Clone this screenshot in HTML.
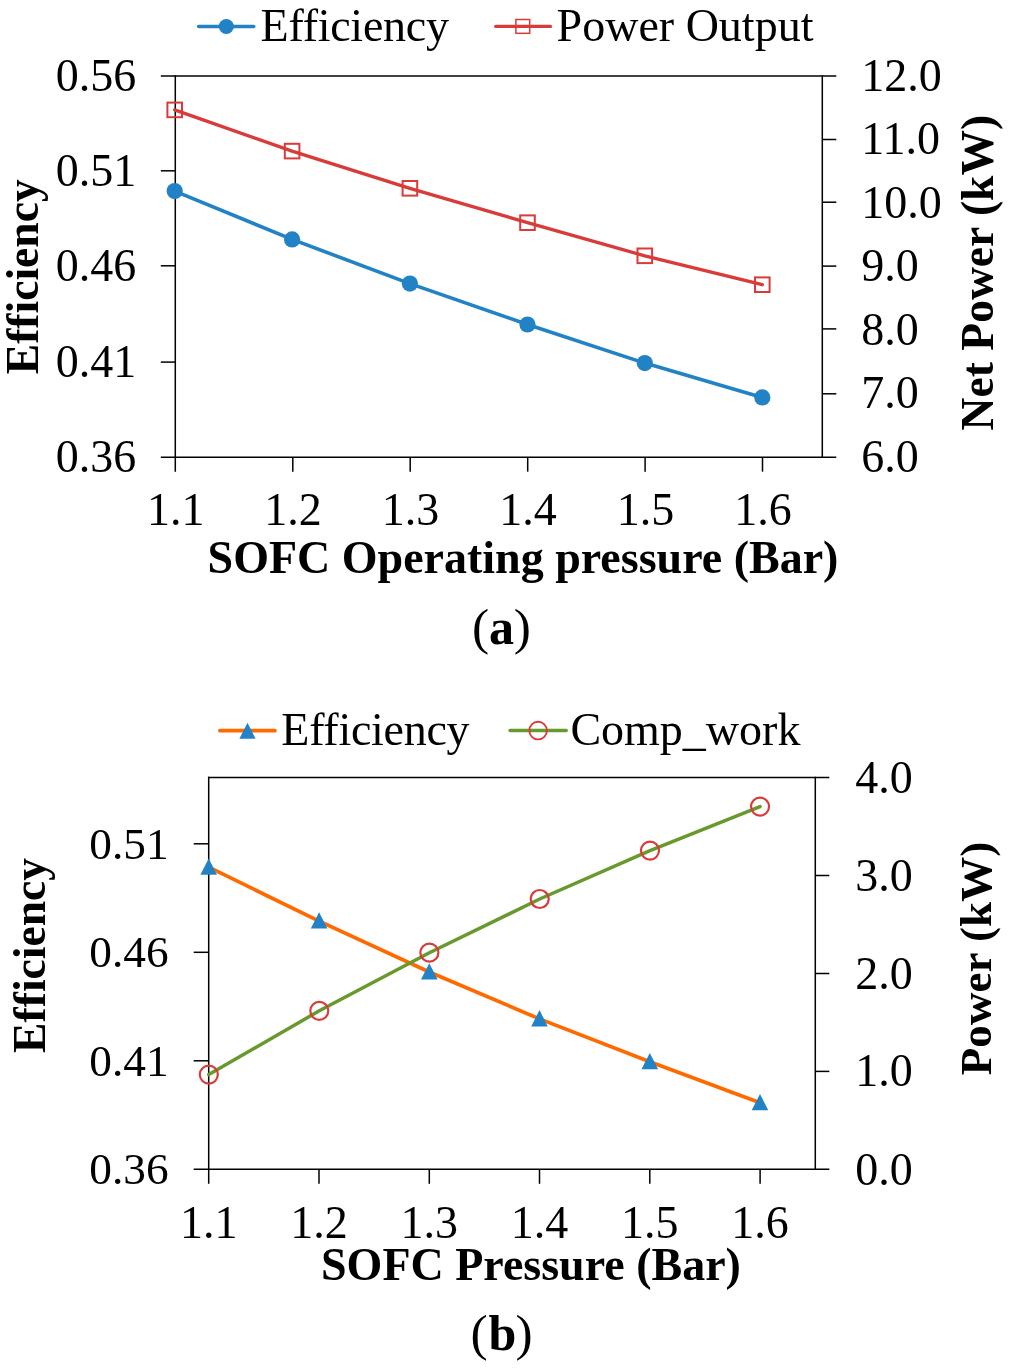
<!DOCTYPE html><html><head><meta charset="utf-8"><title>Figure</title>
<style>html,body{margin:0;padding:0;background:#fff}svg{display:block}text{font-family:"Liberation Serif","Times New Roman",serif;fill:#000}.t{font-size:46px}.r{font-size:45.6px}.c{font-size:50px}.p{font-size:51.5px}.b{font-weight:bold}</style></head><body>
<svg width="1024" height="1370" viewBox="0 0 1024 1370">
<rect width="1024" height="1370" fill="#fff"/>
<g stroke="#000" stroke-width="1.5" fill="none">
<line x1="160.8" y1="76.0" x2="836.3" y2="76.0"/>
<line x1="160.8" y1="457.15" x2="836.3" y2="457.15"/>
<line x1="175.3" y1="75.25" x2="175.3" y2="471.65"/>
<line x1="822.3" y1="75.25" x2="822.3" y2="457.9"/>
<line x1="160.8" y1="170.8" x2="175.3" y2="170.8"/>
<line x1="160.8" y1="265.8" x2="175.3" y2="265.8"/>
<line x1="160.8" y1="362.1" x2="175.3" y2="362.1"/>
<line x1="822.3" y1="139.5" x2="836.3" y2="139.5"/>
<line x1="822.3" y1="202.2" x2="836.3" y2="202.2"/>
<line x1="822.3" y1="266.1" x2="836.3" y2="266.1"/>
<line x1="822.3" y1="328.9" x2="836.3" y2="328.9"/>
<line x1="822.3" y1="393.8" x2="836.3" y2="393.8"/>
<line x1="292.8" y1="457.15" x2="292.8" y2="471.65"/>
<line x1="410.2" y1="457.15" x2="410.2" y2="471.65"/>
<line x1="527.7" y1="457.15" x2="527.7" y2="471.65"/>
<line x1="645.1" y1="457.15" x2="645.1" y2="471.65"/>
<line x1="762.5" y1="457.15" x2="762.5" y2="471.65"/>
</g>
<text class="t" x="136.2" y="90.6" text-anchor="end">0.56</text>
<text class="t" x="136.2" y="185.9" text-anchor="end">0.51</text>
<text class="t" x="136.2" y="281.2" text-anchor="end">0.46</text>
<text class="t" x="136.2" y="376.5" text-anchor="end">0.41</text>
<text class="t" x="136.2" y="471.8" text-anchor="end">0.36</text>
<text class="t" x="861.2" y="90.5">12.0</text>
<text class="t" x="861.2" y="154.0">11.0</text>
<text class="t" x="861.2" y="217.6">10.0</text>
<text class="t" x="861.2" y="281.1">9.0</text>
<text class="t" x="861.2" y="344.6">8.0</text>
<text class="t" x="861.2" y="408.1">7.0</text>
<text class="t" x="861.2" y="472.3">6.0</text>
<text class="t" x="175.7" y="525.2" text-anchor="middle">1.1</text>
<text class="t" x="293.1" y="525.2" text-anchor="middle">1.2</text>
<text class="t" x="410.6" y="525.2" text-anchor="middle">1.3</text>
<text class="t" x="528.1" y="525.2" text-anchor="middle">1.4</text>
<text class="t" x="645.5" y="525.2" text-anchor="middle">1.5</text>
<text class="t" x="762.9" y="525.2" text-anchor="middle">1.6</text>
<text class="t b" x="523" y="572.5" text-anchor="middle">SOFC Operating pressure (Bar)</text>
<text class="c" y="644.5"><tspan class="p" x="472" y="644.1">(</tspan><tspan class="b" x="489.1" y="643.9">a</tspan><tspan class="p" x="513.8" y="644.1">)</tspan></text>
<text class="r b" transform="translate(37.8,276.8) rotate(-90)" text-anchor="middle">Efficiency</text>
<text class="r b" transform="translate(993.3,272.6) rotate(-90)" text-anchor="middle">Net Power (kW)</text>
<polyline points="174.7,109.9 292.1,151.1 409.9,188.3 527.5,222.7 644.8,255.8 762.3,284.7" fill="none" stroke="#d93b38" stroke-width="3.4" stroke-linejoin="round" stroke-linecap="round"/>
<rect x="167.4" y="102.6" width="14.6" height="14.6" fill="none" stroke="#d93b38" stroke-width="2"/>
<rect x="284.8" y="143.8" width="14.6" height="14.6" fill="none" stroke="#d93b38" stroke-width="2"/>
<rect x="402.6" y="181.0" width="14.6" height="14.6" fill="none" stroke="#d93b38" stroke-width="2"/>
<rect x="520.2" y="215.4" width="14.6" height="14.6" fill="none" stroke="#d93b38" stroke-width="2"/>
<rect x="637.5" y="248.5" width="14.6" height="14.6" fill="none" stroke="#d93b38" stroke-width="2"/>
<rect x="755.0" y="277.4" width="14.6" height="14.6" fill="none" stroke="#d93b38" stroke-width="2"/>
<polyline points="174.7,191.1 292.1,239.4 409.9,283.6 527.5,324.5 644.8,363.1 762.3,397.4" fill="none" stroke="#2182c5" stroke-width="3.6" stroke-linejoin="round" stroke-linecap="round"/>
<circle cx="174.7" cy="191.1" r="8.1" fill="#2182c5"/>
<circle cx="292.1" cy="239.4" r="8.1" fill="#2182c5"/>
<circle cx="409.9" cy="283.6" r="8.1" fill="#2182c5"/>
<circle cx="527.5" cy="324.5" r="8.1" fill="#2182c5"/>
<circle cx="644.8" cy="363.1" r="8.1" fill="#2182c5"/>
<circle cx="762.3" cy="397.4" r="8.1" fill="#2182c5"/>
<line x1="198.7" y1="26.5" x2="253.7" y2="26.5" stroke="#2182c5" stroke-width="3.6" stroke-linecap="round"/><circle cx="226.3" cy="26.5" r="7.6" fill="#2182c5"/>
<text class="t" x="260.6" y="41.2" textLength="188.3" lengthAdjust="spacing">Efficiency</text>
<line x1="495.8" y1="26.4" x2="550.4" y2="26.4" stroke="#d93b38" stroke-width="3.4" stroke-linecap="round"/><rect x="515.9" y="19.5" width="13.8" height="13.8" fill="none" stroke="#d93b38" stroke-width="1.5"/>
<text class="t" x="556.6" y="41.2">Power Output</text>
<g stroke="#000" stroke-width="1.5" fill="none">
<line x1="207.95" y1="777.6" x2="829.3" y2="777.6"/>
<line x1="193.7" y1="1169.3" x2="829.3" y2="1169.3"/>
<line x1="208.7" y1="776.85" x2="208.7" y2="1183.8"/>
<line x1="815.3" y1="776.85" x2="815.3" y2="1170.05"/>
<line x1="193.7" y1="843.8" x2="208.7" y2="843.8"/>
<line x1="193.7" y1="952.3" x2="208.7" y2="952.3"/>
<line x1="193.7" y1="1060.8" x2="208.7" y2="1060.8"/>
<line x1="815.3" y1="875.5" x2="829.3" y2="875.5"/>
<line x1="815.3" y1="973.5" x2="829.3" y2="973.5"/>
<line x1="815.3" y1="1071.4" x2="829.3" y2="1071.4"/>
<line x1="319.0" y1="1169.3" x2="319.0" y2="1183.8"/>
<line x1="429.3" y1="1169.3" x2="429.3" y2="1183.8"/>
<line x1="539.5" y1="1169.3" x2="539.5" y2="1183.8"/>
<line x1="649.8" y1="1169.3" x2="649.8" y2="1183.8"/>
<line x1="760.1" y1="1169.3" x2="760.1" y2="1183.8"/>
</g>
<text class="t" x="168.6" y="858.8" text-anchor="end" style="font-size:45.3px">0.51</text>
<text class="t" x="168.6" y="967.3" text-anchor="end" style="font-size:45.3px">0.46</text>
<text class="t" x="168.6" y="1075.8" text-anchor="end" style="font-size:45.3px">0.41</text>
<text class="t" x="168.6" y="1184.3" text-anchor="end" style="font-size:45.3px">0.36</text>
<text class="t" x="855.3" y="793.3">4.0</text>
<text class="t" x="855.3" y="891.2">3.0</text>
<text class="t" x="855.3" y="989.2">2.0</text>
<text class="t" x="855.3" y="1086.1">1.0</text>
<text class="t" x="855.3" y="1185.0">0.0</text>
<text class="t" x="208.7" y="1238.2" text-anchor="middle">1.1</text>
<text class="t" x="319.0" y="1238.2" text-anchor="middle">1.2</text>
<text class="t" x="429.3" y="1238.2" text-anchor="middle">1.3</text>
<text class="t" x="539.5" y="1238.2" text-anchor="middle">1.4</text>
<text class="t" x="649.8" y="1238.2" text-anchor="middle">1.5</text>
<text class="t" x="760.1" y="1238.2" text-anchor="middle">1.6</text>
<text class="t b" x="531" y="1280" text-anchor="middle">SOFC Pressure (Bar)</text>
<text class="c" y="1350.5"><tspan class="p" x="470.4" y="1350.3">(</tspan><tspan class="b" x="488.5" y="1350.4">b</tspan><tspan class="p" x="515.5" y="1350.3">)</tspan></text>
<text class="r b" transform="translate(45.3,955.4) rotate(-90)" text-anchor="middle">Efficiency</text>
<text class="r b" transform="translate(990.6,958.5) rotate(-90)" text-anchor="middle" style="font-size:45.1px">Power (kW)</text>
<polyline points="208.7,867.2 319.1,921.1 429.3,972.0 539.5,1018.9 649.8,1061.8 760.0,1102.8" fill="none" stroke="#ff6a00" stroke-width="3.7" stroke-linejoin="round" stroke-linecap="round"/>
<polygon points="208.7,858.4 217.0,874.7 200.4,874.7" fill="#2182c5"/>
<polygon points="319.1,912.3 327.4,928.6 310.8,928.6" fill="#2182c5"/>
<polygon points="429.3,963.2 437.6,979.5 421.0,979.5" fill="#2182c5"/>
<polygon points="539.5,1010.1 547.8,1026.4 531.2,1026.4" fill="#2182c5"/>
<polygon points="649.8,1053.0 658.1,1069.3 641.5,1069.3" fill="#2182c5"/>
<polygon points="760.0,1094.0 768.3,1110.3 751.7,1110.3" fill="#2182c5"/>
<polyline points="208.8,1074.6 319.3,1010.8 429.4,952.7 539.7,899.0 650.0,850.6 760.05,806.6" fill="none" stroke="#68992d" stroke-width="3.5" stroke-linejoin="round" stroke-linecap="round"/>
<circle cx="208.8" cy="1074.6" r="9.0" fill="none" stroke="#d93b38" stroke-width="2.2"/>
<circle cx="319.3" cy="1010.8" r="9.0" fill="none" stroke="#d93b38" stroke-width="2.2"/>
<circle cx="429.4" cy="952.7" r="9.0" fill="none" stroke="#d93b38" stroke-width="2.2"/>
<circle cx="539.7" cy="899.0" r="9.0" fill="none" stroke="#d93b38" stroke-width="2.2"/>
<circle cx="650.0" cy="850.6" r="9.0" fill="none" stroke="#d93b38" stroke-width="2.2"/>
<circle cx="760.05" cy="806.6" r="9.0" fill="none" stroke="#d93b38" stroke-width="2.2"/>
<line x1="219.9" y1="730.7" x2="274.9" y2="730.7" stroke="#ff6a00" stroke-width="3.7" stroke-linecap="round"/><polygon points="247.5,722.8 255.6,738.8 239.4,738.8" fill="#2182c5"/>
<text class="t" x="281.3" y="745.3" textLength="188.3" lengthAdjust="spacing">Efficiency</text>
<line x1="510.1" y1="730.6" x2="566.2" y2="730.6" stroke="#68992d" stroke-width="3.5" stroke-linecap="round"/><circle cx="538.1" cy="730.6" r="8.8" fill="none" stroke="#d93b38" stroke-width="1.9"/>
<text class="t" x="570.4" y="745">Comp_work</text>
</svg></body></html>
